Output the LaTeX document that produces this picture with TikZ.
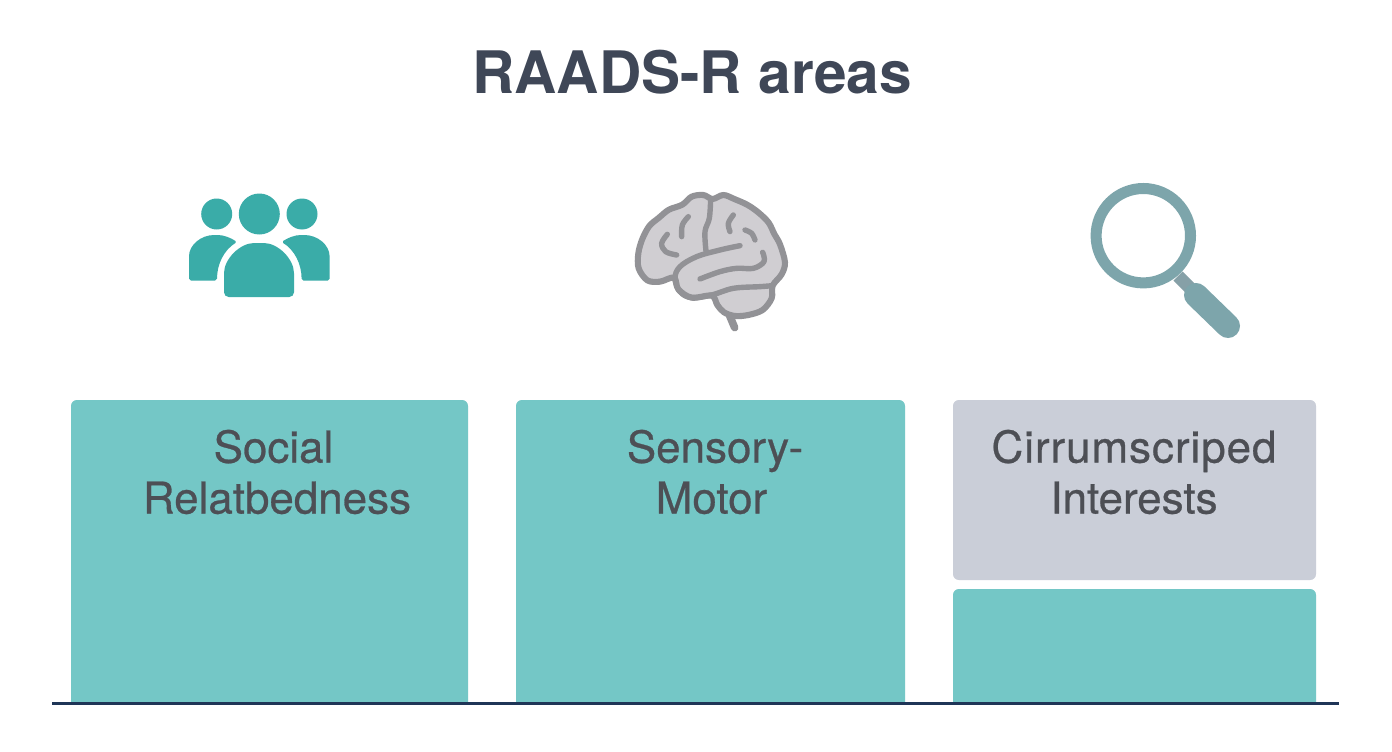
\documentclass[tikz,border=0pt]{standalone}
\usepackage{fontspec}
\setmainfont{TeX Gyre Heros}
\newfontfamily\boxfont[FakeBold=0.6]{TeX Gyre Heros}
\definecolor{boxteal}{HTML}{74C7C6}
\definecolor{boxgrey}{HTML}{CACED8}
\definecolor{iconteal}{HTML}{3AACA8}
\definecolor{brainfill}{HTML}{D0CED2}
\definecolor{brainline}{HTML}{929296}
\definecolor{lensblue}{HTML}{7DA5AB}
\definecolor{neckblue}{HTML}{86A0A7}
\definecolor{titleink}{HTML}{3F4757}
\definecolor{labelink}{HTML}{4D4F55}
\definecolor{axisink}{HTML}{1F3557}
\tikzset{
  titletext/.style={text=titleink,font=\fontsize{50}{60}\selectfont\bfseries},
  boxtext/.style={text=labelink,align=center,font=\boxfont\fontsize{37.5}{43.5}\selectfont},
  sulcus/.style={draw=brainline,line width=4.6pt,line cap=round,line join=round}
}
\begin{document}
\begin{tikzpicture}[x=0.3mm,y=0.3mm]
\tikzstyle{every node}+=[inner sep=0pt]
\useasboundingbox (0,0) rectangle (1392,-752);
\fill [white] (0,0) rectangle (1392,-752);
\draw (692,-72) node [titletext] (title) {RAADS-R areas};
% boxes
\fill [boxteal, rounded corners=5pt] (71,-703) -- (71,-400) -- (468,-400) -- (468,-703);
\fill [boxteal, rounded corners=5pt] (516,-703) -- (516,-400) -- (905,-400) -- (905,-703);
\fill [boxgrey, rounded corners=5pt] (953,-580) rectangle (1316,-400);
\fill [boxteal, rounded corners=5pt] (953,-703) -- (953,-589) -- (1316,-589) -- (1316,-703);
\draw (277,-472) node [boxtext] (social) {Social\hspace*{6pt}\\Relatbedness};
\draw (715,-472) node [boxtext] (sensory) {Sensory-\\\hspace*{-6pt}Motor};
\draw (1134,-472) node [boxtext] (interests) {\addfontfeature{LetterSpace=2.2}Cirrumscriped\\Interests};
\draw [axisink, line width=2.6pt] (52,-703.5) -- (1339,-703.5);
% people
\fill [iconteal] (216.7,-214) circle (15.5);
\fill [iconteal] (302,-214) circle (15.5);
\fill [iconteal] (259.3,-214) circle (20.5);
\fill [iconteal, rounded corners=4pt] (224,-297) -- (224,-278) .. controls (224,-259) and (240,-243) .. (259,-243) .. controls (278,-243) and (294,-259) .. (294,-278) -- (294,-297) -- cycle;
\fill [iconteal, rounded corners=1.5pt] (189,-280.5) -- (189,-258) .. controls (189,-245) and (201,-235) .. (216,-235) .. controls (224,-235) and (231,-238) .. (237,-242) .. controls (224,-250) and (217,-264) .. (217,-280.5) -- cycle;
\fill [iconteal, rounded corners=1.5pt] (329.6,-280.5) -- (329.6,-258) .. controls (329.6,-245) and (317.6,-235) .. (302.6,-235) .. controls (294.6,-235) and (287.6,-238) .. (281.6,-242) .. controls (294.6,-250) and (301.6,-264) .. (301.6,-280.5) -- cycle;
% brain
\begin{scope}[shift={(620,-175)},xscale=0.3333,yscale=-0.3333]
\draw [sulcus, line width=6.5pt] (328,420) -- (344,458);
\filldraw [fill=brainfill, draw=brainline, line width=5.2pt, line join=round] plot [smooth cycle, tension=0.55] coordinates {(55,235) (67,192) (88,153) (117,128) (147,104) (187,89) (215,65) (250,60) (278,72) (310,60) (343,72) (383,90) (417,114) (446,143) (463,177) (480,208) (495,262) (485,298) (458,332) (455,370) (428,405) (385,420) (345,423) (312,412) (292,390) (275,362) (215,368) (175,343) (162,308) (120,320) (82,316) (56,280)};
\draw [sulcus] plot [smooth, tension=0.6] coordinates {(272,72) (268,130) (255,170) (258,228)};
\draw [sulcus] plot [smooth, tension=0.6] coordinates {(360,212) (300,225) (230,245) (180,275) (165,310) (180,350) (215,368) (275,360) (340,340) (420,335) (458,332)};
\draw [sulcus] plot [smooth, tension=0.6] coordinates {(240,312) (300,290) (350,280) (400,280) (432,260) (428,232)};
\draw [sulcus] plot [smooth, tension=0.6] coordinates {(142,178) (125,205) (137,230) (170,240)};
\draw [sulcus] plot [smooth, tension=0.6] coordinates {(205,125) (187,150) (185,185)};
\draw [sulcus] plot [smooth, tension=0.6] coordinates {(340,120) (325,145) (330,170)};
\draw [sulcus] plot [smooth, tension=0.6] coordinates {(375,165) (395,175) (405,195)};
\end{scope}
% magnifier
\draw [neckblue, line width=11pt] (1178,-276) -- (1194,-292);
\draw [lensblue, line width=20.5pt, line cap=round] (1196,-295) -- (1228,-326);
\draw [lensblue, line width=9.4pt] (1143.3,-235.7) circle (47.2);
\end{tikzpicture}
\end{document}
